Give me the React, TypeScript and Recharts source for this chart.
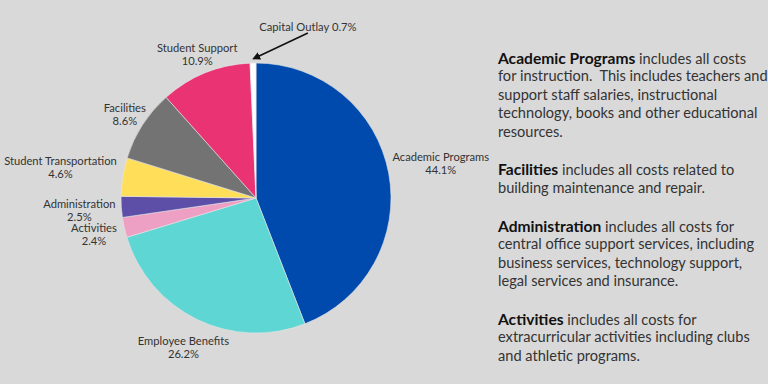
import { PieChart, Pie, Cell } from 'recharts'

const categories = [
  'Academic Programs',
  'Employee Benefits',
  'Activities',
  'Administration',
  'Student Transportation',
  'Facilities',
  'Student Support',
  'Capital Outlay',
]
const shares = [44.1, 26.2, 2.4, 2.5, 4.6, 8.6, 10.9, 0.7]
const colors = ['#004aad', '#5dd6d4', '#eda0c3', '#5d4ea8', '#ffde59', '#737373', '#ea3373', '#ffffff']

// description lines, wrapped as in the original
const notes = [
  {
    head: 'Academic Programs',
    lines: [
      ' includes all costs',
      'for instruction.\u00a0 This includes teachers and',
      'support staff salaries, instructional',
      'technology, books and other educational',
      'resources.',
    ],
  },
  { head: 'Facilities', lines: [' includes all costs related to', 'building maintenance and repair.'] },
  {
    head: 'Administration',
    lines: [
      ' includes all costs for',
      'central office support services, including',
      'business services, technology support,',
      'legal services and insurance.',
    ],
  },
  {
    head: 'Activities',
    lines: [' includes all costs for', 'extracurricular activities including clubs', 'and athletic programs.'],
  },
]

const data = categories.map((name, i) => ({ name, value: shares[i] }))

// extra distance of each label's centre beyond the rim
const labelGap: Record<string, number> = {
  'Academic Programs': 53,
  'Employee Benefits': 31,
  Activities: 31,
  Administration: 42,
  'Student Transportation': 63,
  Facilities: 21,
  'Student Support': 21,
}

const RADIAN = Math.PI / 180
const FONT = 'Lato, "Noto Sans", sans-serif'

function renderLabel(props: any) {
  const { cx, cy, midAngle, outerRadius, name, value } = props
  const cos = Math.cos(-midAngle * RADIAN)
  const sin = Math.sin(-midAngle * RADIAN)
  if (name === 'Capital Outlay') {
    const tx = cx + (outerRadius + 6) * cos
    const ty = cy + (outerRadius + 6) * sin
    return (
      <g>
        <line x1={tx + 55} y1={ty - 24} x2={tx + 2} y2={ty + 1} stroke="#111" strokeWidth={1.6} markerEnd="url(#arrowHead)" />
        <text x={tx + 55} y={ty - 26} textAnchor="middle" fill="#333" fontSize={11.2} fontFamily={FONT}>
          {`${name} ${value}%`}
        </text>
      </g>
    )
  }
  const r = outerRadius + (labelGap[name] ?? 25)
  const x = cx + r * cos
  const y = cy + r * sin
  return (
    <text x={x} y={y} textAnchor="middle" fill="#333" fontSize={11.2} fontFamily={FONT}>
      <tspan x={x} dy={-2}>{name}</tspan>
      <tspan x={x} dy={13}>{`${value}%`}</tspan>
    </text>
  )
}

export default function App() {
  return (
    <div
      style={{
        position: 'absolute',
        left: 0,
        top: 0,
        width: 768,
        height: 384,
        background: '#d9d9d9',
        overflow: 'hidden',
      }}
    >
      <PieChart
        width={512}
        height={384}
        margin={{ top: 0, right: 0, bottom: 0, left: 0 }}
        style={{ position: 'absolute', left: 0, top: 0 }}
      >
        <defs>
          <marker id="arrowHead" markerWidth="8" markerHeight="8" refX="5" refY="4" orient="auto" markerUnits="userSpaceOnUse">
            <path d="M0,0 L8,4 L0,8 z" fill="#111" />
          </marker>
        </defs>
        <Pie
          data={data}
          dataKey="value"
          nameKey="name"
          cx={256}
          cy={198}
          outerRadius={135}
          startAngle={90}
          endAngle={-270}
          stroke="#e6e6e6"
          strokeWidth={0.6}
          label={renderLabel}
          labelLine={false}
          isAnimationActive={false}
        >
          {data.map((d, i) => (
            <Cell key={d.name} fill={colors[i]} />
          ))}
        </Pie>
      </PieChart>
      <div
        style={{
          position: 'absolute',
          left: 498,
          top: 49,
          fontFamily: FONT,
          fontSize: 14.6,
          lineHeight: '18.4px',
          color: '#333',
          whiteSpace: 'nowrap',
        }}
      >
        {notes.map((n) => (
          <div key={n.head} style={{ marginBottom: 19.5 }}>
            {n.lines.map((line, i) => (
              <div key={i} style={{ height: 18.4 }}>
                {i === 0 && <b style={{ color: '#111', fontSize: 15.6, lineHeight: '18.4px' }}>{n.head}</b>}
                {line}
              </div>
            ))}
          </div>
        ))}
      </div>
    </div>
  )
}
